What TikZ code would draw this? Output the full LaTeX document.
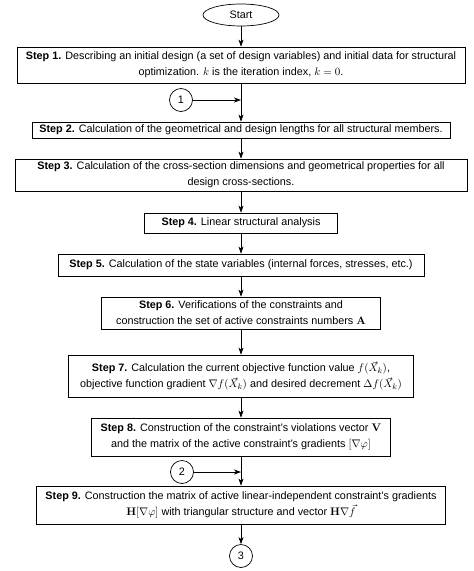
\documentclass[tikz,border=0pt]{standalone}
\usepackage{amsmath}
\usepackage[no-math]{fontspec}
\setmainfont{Liberation Sans}
\usetikzlibrary{shapes}
\usetikzlibrary{arrows.meta}

\begin{document}
\begin{tikzpicture}[x=1pt,y=-1pt,>={Stealth[length=7pt,width=5pt,inset=2pt]},line width=0.7pt,font=\fontsize{10.8}{16}\selectfont]%%flowchart

                \tikzstyle{stepbox}  = [rectangle, draw, align=center, inner sep=1pt]
                \tikzstyle{term}     = [ellipse, draw, minimum width=76pt, minimum height=22pt, inner sep=0pt]
                \tikzstyle{conn}     = [circle, draw, minimum size=23pt, inner sep=0pt]
                \useasboundingbox (0,0) rectangle (474,571);

                \node [term](start) at (241,15) {Start};
                \node [stepbox, minimum width=448pt, minimum height=36pt](s1) at (241,65)
                        {\textbf{Step 1.} Describing an initial design (a set of design variables) and initial data for structural\\
                        optimization. $k$ is the iteration index, $k=0$.};
                \node [conn](c1) at (181,100) {1};
                \coordinate (j1) at (241,100);
                \node [stepbox, minimum width=418pt, minimum height=16pt](s2) at (241,130)
                        {\textbf{Step 2.} Calculation of the geometrical and design lengths for all structural members.};
                \node [stepbox, minimum width=452pt, minimum height=32pt](s3) at (241,175)
                        {\textbf{Step 3.} Calculation of the cross-section dimensions and geometrical properties for all\\
                        design cross-sections.};
                \node [stepbox, minimum width=193pt, minimum height=20pt](s4) at (241,223)
                        {\textbf{Step 4.} Linear structural analysis};
                \node [stepbox, minimum width=366pt, minimum height=22pt](s5) at (241,265)
                        {\textbf{Step 5.} Calculation of the state variables (internal forces, stresses, etc.)};
                \node [stepbox, minimum width=279pt, minimum height=32pt](s6) at (241,313)
                        {\textbf{Step 6.} Verifications of the constraints and\\
                        construction the set of active constraints numbers $\mathbf{A}$};
                \node [stepbox, minimum width=345pt, minimum height=42pt](s7) at (241,376)
                        {\textbf{Step 7.} Calculation the current objective function value $f(\vec{X}_k)$,\\
                        objective function gradient $\nabla f(\vec{X}_k)$ and desired decrement $\Delta f(\vec{X}_k)$};
                \node [stepbox, minimum width=299pt, minimum height=38pt](s8) at (241,437)
                        {\textbf{Step 8.} Construction of the constraint’s violations vector $\mathbf{V}$\\
                        and the matrix of the active constraint’s gradients $[\nabla\varphi]$};
                \node [conn](c2) at (182,472) {2};
                \coordinate (j2) at (241,472);
                \node [stepbox, minimum width=409pt, minimum height=38pt](s9) at (241,505)
                        {\textbf{Step 9.} Construction the matrix of active linear-independent constraint’s gradients\\
                        $\mathbf{H}[\nabla\varphi]$ with triangular structure and vector $\mathbf{H}\nabla\vec{f}$};
                \node [conn](c3) at (241,556) {3};

                \draw [->] (start) -- (s1);
                \draw [->] (s1) -- (s2);
                \draw [->] (c1) -- (j1);
                \draw [->] (s2) -- (s3);
                \draw [->] (s3) -- (s4);
                \draw [->] (s4) -- (s5);
                \draw [->] (s5) -- (s6);
                \draw [->] (s6) -- (s7);
                \draw [->] (s7) -- (s8);
                \draw [->] (s8) -- (s9);
                \draw [->] (c2) -- (j2);
                \draw [->] (s9) -- (c3);
\end{tikzpicture}
\end{document}
